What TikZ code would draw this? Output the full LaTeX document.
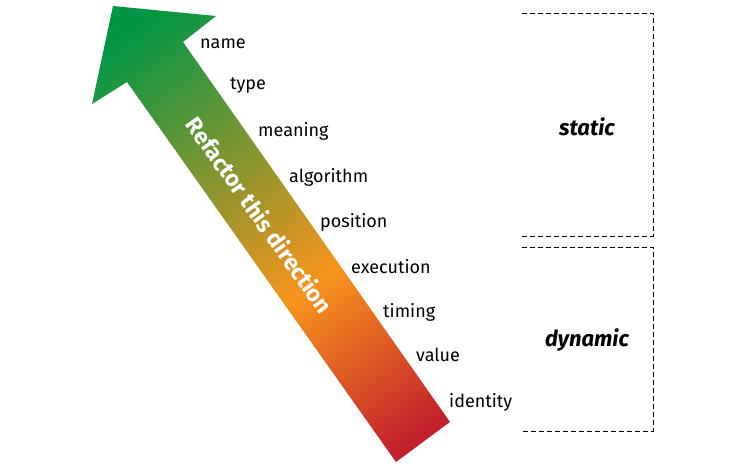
\documentclass[tikz,border=0pt]{standalone}
\usepackage{fontspec}
\setmainfont{Fira Sans}
\definecolor{ga}{RGB}{0,150,70}
\definecolor{gb}{RGB}{247,148,29}
\definecolor{gc}{RGB}{195,32,45}
\pgfdeclareverticalshading{refshade}{100bp}{color(0bp)=(gc); color(20bp)=(gc); color(42bp)=(gb); color(80bp)=(ga); color(100bp)=(ga)}
\begin{document}
\begin{tikzpicture}[x=1pt,y=-1pt,
  lbl/.style={anchor=west,inner sep=0pt,font=\fontsize{18}{21}\selectfont},
  brk/.style={dash pattern=on 5pt off 3pt,line width=0.9pt},
  kind/.style={font=\fontsize{22}{26}\selectfont\bfseries\itshape}]
\useasboundingbox (0,0) rectangle (740,469);
\shade[shading=refshade,shading angle=35]
  (113,6) -- (216,16) -- (183,42) -- (450,422) -- (396,462) -- (127,82) -- (92,104) -- cycle;
\node[rotate=-54.6,text=white,font=\fontsize{23}{26}\selectfont\bfseries] (arr) at (260,215) {Refactor this direction};
\node[lbl] (n1) at (200,44) {name};
\node[lbl] (n2) at (230,86) {type};
\node[lbl] (n3) at (258,131) {meaning};
\node[lbl] (n4) at (289,177) {algorithm};
\node[lbl] (n5) at (320,222) {position};
\node[lbl] (n6) at (351,267) {execution};
\node[lbl] (n7) at (383,312) {timing};
\node[lbl] (n8) at (416,355) {value};
\node[lbl] (n9) at (449,402) {identity};
\draw[brk] (522,13) -- (653,13) -- (653,236) -- (522,236);
\draw[brk] (522,247) -- (653,247) -- (653,431) -- (522,431);
\node[kind] (s) at (587,127) {static};
\node[kind] (d) at (587,340) {dynamic};
\end{tikzpicture}
\end{document}
